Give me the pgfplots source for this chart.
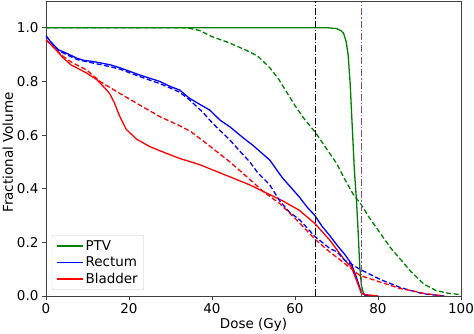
\documentclass[border=0pt]{standalone}
\usepackage{fontspec}
\setmainfont{DejaVu Sans}
\usepackage{pgfplots}
\pgfplotsset{compat=1.18}
\definecolor{mplgreen}{HTML}{008000}
\definecolor{mplblue}{HTML}{0000FF}
\definecolor{mplred}{HTML}{FF0000}
\definecolor{mplpurple}{HTML}{8A4A8A}
\begin{document}
\begin{tikzpicture}
\useasboundingbox (-46pt,-38pt) rectangle (428pt,296pt);
\begin{axis}[
  at={(0pt,0pt)}, anchor=south west,
  scale only axis, width=415pt, height=295pt,
  xmin=0, xmax=100, ymin=0, ymax=1.1,
  xtick={0,20,40,60,80,100},
  ytick={0,0.2,0.4,0.6,0.8,1.0},
  yticklabel style={/pgf/number format/.cd, fixed, fixed zerofill, precision=1},
  /pgf/number format/assume math mode=true,
  tick align=outside, tick pos=left,
  major tick length=4pt,
  axis line style={black!75, line width=0.8pt},
  every tick/.style={black!75, line width=0.8pt},
  ticklabel style={font=\fontsize{13.5}{16}\selectfont},
  xlabel={Dose (Gy)}, ylabel={Fractional Volume},
  label style={font=\fontsize{13.5}{16}\selectfont},
  ylabel style={yshift=-3pt, xshift=-4pt},
  xlabel style={yshift=2pt},
  legend cell align=left,
  legend style={at={(0.014,0.02)}, anchor=south west, draw=black!20, rounded corners=2pt,
    fill=white, font=\fontsize{13.5}{16}\selectfont, row sep=1pt, inner xsep=4pt, inner ysep=3pt},
  legend image code/.code={\draw[#1] (0pt,0pt) -- (26pt,0pt); \draw[#1] (0pt,0pt) -- (26pt,0pt);},
]
\addlegendimage{color=mplgreen, line width=1.5pt}
\addlegendentry{PTV}
\addlegendimage{color=mplblue, line width=1.5pt}
\addlegendentry{Rectum}
\addlegendimage{color=mplred, line width=1.5pt}
\addlegendentry{Bladder}
% PTV solid
\addplot[mplgreen, line width=1.3pt, forget plot] coordinates {(0,1) (68,1) (70,0.997) (71,0.99) (71.7,0.98) (72.3,0.95) (72.8,0.9) (73.3,0.79) (73.8,0.63) (74.3,0.47) (74.8,0.36) (75.2,0.245) (75.6,0.11) (76,0.04) (76.5,0.01) (77,0)};
% Rectum solid
\addplot[mplblue, line width=1.3pt, forget plot] coordinates {(0,0.97) (1,0.95) (3,0.918) (5,0.905) (7.4,0.887) (9,0.879) (11.5,0.874) (15.5,0.862) (18,0.85) (22.6,0.824) (27.4,0.80) (30,0.781) (32.2,0.768) (34.6,0.737) (37,0.715) (39.4,0.694) (42,0.655) (44.3,0.631) (47.5,0.59) (50,0.56) (53.9,0.507) (57,0.44) (59,0.405) (61,0.37) (63,0.33) (64.8,0.30) (66.5,0.26) (68.4,0.225) (70.1,0.19) (72,0.155) (73.6,0.12) (74.8,0.07) (76,0.012) (77,0.003) (80,0)};
% Bladder solid
\addplot[mplred, line width=1.3pt, forget plot] coordinates {(0,0.955) (2,0.925) (4,0.89) (6,0.862) (8,0.846) (9.8,0.831) (12.3,0.806) (13.9,0.78) (15.3,0.756) (16.5,0.72) (17.7,0.672) (19.3,0.622) (21.8,0.585) (25,0.557) (29,0.532) (32.2,0.513) (37,0.49) (41,0.465) (45,0.44) (49,0.415) (53,0.385) (57,0.355) (61,0.32) (64.8,0.27) (68.4,0.208) (72,0.133) (73.6,0.108) (74.8,0.059) (76,0.01) (77,0.005) (80,0)};
% dashed
\addplot[mplgreen, line width=1.3pt, dash pattern=on 5pt off 2.5pt, forget plot] coordinates {(0,1) (34,1) (37,0.99) (40,0.967) (44,0.945) (48,0.918) (51,0.895) (54,0.85) (56,0.81) (58,0.76) (60,0.71) (62,0.665) (65,0.608) (68,0.54) (70,0.495) (72,0.435) (74,0.38) (76,0.34) (78,0.29) (80.5,0.235) (83,0.18) (85.5,0.135) (88,0.09) (91,0.045) (94,0.02) (97,0.01) (100,0.005)};
\addplot[mplblue, line width=1.3pt, dash pattern=on 5pt off 2.5pt, forget plot] coordinates {(0,0.97) (1,0.95) (3,0.915) (5,0.9) (7.4,0.882) (11.5,0.868) (15.5,0.855) (18,0.845) (22.6,0.818) (27.4,0.792) (30,0.775) (32.2,0.76) (34.6,0.731) (37.8,0.685) (39.4,0.657) (41,0.631) (44.3,0.582) (47,0.535) (49.1,0.5) (51,0.46) (53.9,0.415) (56.3,0.355) (58.5,0.315) (61.2,0.283) (64.8,0.222) (68.4,0.177) (70.1,0.165) (72,0.133) (75.6,0.1) (80.5,0.062) (85.3,0.032) (88,0.02) (91,0.008) (94,0.003) (96,0)};
\addplot[mplred, line width=1.3pt, dash pattern=on 5pt off 2.5pt, forget plot] coordinates {(0,0.955) (2,0.925) (4,0.895) (6,0.873) (8,0.857) (9.8,0.843) (13,0.80) (17.7,0.756) (22.6,0.712) (27.4,0.669) (32.2,0.635) (35,0.612) (39.4,0.56) (44.3,0.5) (49.1,0.435) (52.3,0.39) (56.3,0.345) (60,0.29) (64.8,0.212) (68.4,0.164) (72,0.121) (75.6,0.077) (80.5,0.052) (85.3,0.028) (88,0.02) (91,0.01) (94,0.004) (96,0)};
% reference lines
\addplot[black, line width=1.1pt, dash pattern=on 7pt off 2pt on 1.2pt off 2pt, forget plot] coordinates {(65,0) (65,1.1)};
\addplot[mplpurple, line width=1.2pt, dash pattern=on 7pt off 2pt on 1.2pt off 2pt, forget plot] coordinates {(76,0) (76,1.1)};
\end{axis}
\end{tikzpicture}
\end{document}
